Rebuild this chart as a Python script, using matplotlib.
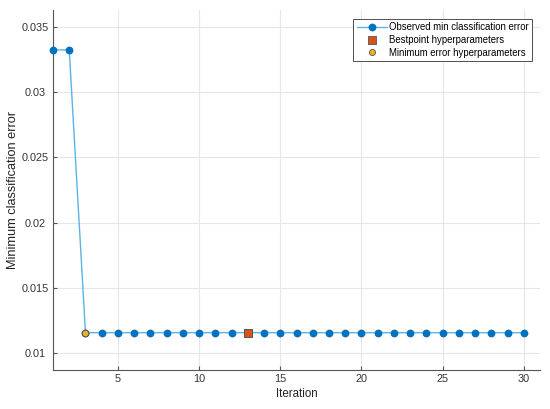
import matplotlib
matplotlib.use("Agg")
import matplotlib.pyplot as plt
from matplotlib.lines import Line2D

plt.rcParams['font.family'] = ['Liberation Sans', 'DejaVu Sans']

iterations = list(range(1, 31))
min_error = [0.03324, 0.03324] + [0.01156] * 28
best_iter = 13
best_err = 0.01156
minerr_iter = 3
minerr_err = 0.01156
xticks = [5, 10, 15, 20, 25, 30]
yticks = [0.01, 0.015, 0.02, 0.025, 0.03, 0.035]
yticklabels = ['0.01', '0.015', '0.02', '0.025', '0.03', '0.035']

fig = plt.figure(figsize=(5.5, 4.09), dpi=100)
ax = fig.add_axes([53/550, 1 - 370/409, (540-53)/550, (370-10)/409])

line_c = '#5AB4E5'
ax.plot(iterations, min_error, color=line_c, lw=1.0, marker='o', ms=4.6,
        mfc='#0072BD', mec='#0072BD', zorder=3, clip_on=False)
ax.plot([best_iter], [best_err], marker='s', ls='none', ms=5.8, mfc='#D95319',
        mec='#555555', mew=0.7, zorder=4)
ax.plot([minerr_iter], [minerr_err], marker='o', ls='none', ms=4.8, mfc='#EDB120',
        mec='#555555', mew=0.7, zorder=4)

ax.set_xlim(1, 31)
ax.set_ylim(0.0087, 0.0363)
ax.set_xticks(xticks)
ax.set_yticks(yticks)
ax.set_yticklabels(yticklabels)
ax.grid(True, color='#e6e6e6', lw=0.8)
ax.set_axisbelow(True)
for s in ['top', 'right']:
    ax.spines[s].set_visible(False)
for s in ['left', 'bottom']:
    ax.spines[s].set_color('#555555')
    ax.spines[s].set_linewidth(0.8)
ax.tick_params(axis='x', direction='in', length=3, colors='#555555', labelsize=7.8,
               labelcolor='#333333', pad=3)
ax.tick_params(axis='y', direction='in', length=3, colors='#555555', labelsize=7.8,
               labelcolor='#333333', pad=12.6)
for lab in ax.get_yticklabels():
    lab.set_horizontalalignment('center')
ax.set_xlabel('Iteration', fontsize=8.3, color='#222222', labelpad=3)
ax.set_ylabel('Minimum classification error', fontsize=9.2, color='#222222')
ax.yaxis.set_label_coords(-(53 - 19) / (540 - 53), 0.5)

handles = [
    Line2D([], [], color=line_c, lw=1.0, marker='o', ms=4.6, mfc='#0072BD', mec='#0072BD'),
    Line2D([], [], ls='none', marker='s', ms=5.2, mfc='#D95319', mec='#555555', mew=0.6),
    Line2D([], [], ls='none', marker='o', ms=4.4, mfc='#EDB120', mec='#555555', mew=0.6),
]
labels = ['Observed min classification error', 'Bestpoint hyperparameters',
          'Minimum error hyperparameters']
leg = ax.legend(handles, labels, loc='upper right', bbox_to_anchor=(532/550, 1 - 19/409),
                bbox_transform=fig.transFigure, fontsize=6.9, frameon=True, fancybox=False,
                edgecolor='#333333', framealpha=1, borderpad=0.35, labelspacing=0.28,
                handlelength=3.1, handletextpad=0.25, borderaxespad=0)
leg.get_frame().set_linewidth(0.6)

fig.savefig('out.png', dpi=100)
